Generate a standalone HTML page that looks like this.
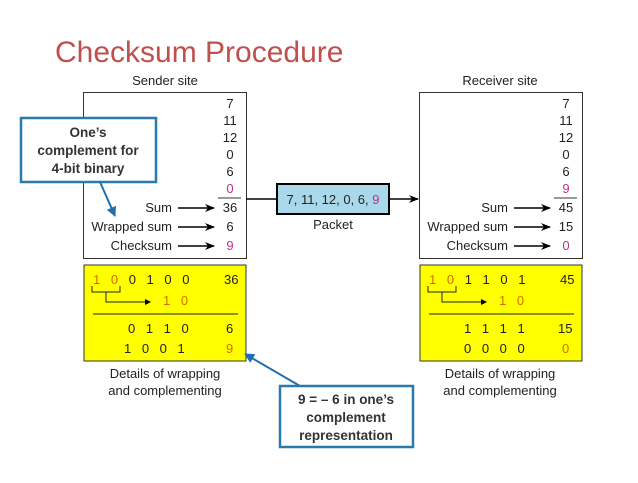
<!DOCTYPE html>
<html><head><meta charset="utf-8"><style>
body{margin:0;background:#fff;width:638px;height:478px;overflow:hidden}
text{font-family:"Liberation Sans",sans-serif}
.bn{letter-spacing:3.5px}
</style></head><body>
<svg width="638" height="478" xmlns="http://www.w3.org/2000/svg">
<defs><marker id="a" markerWidth="10" markerHeight="8" refX="9" refY="4" orient="auto" markerUnits="userSpaceOnUse"><path d="M0,0 L10,4 L0,8 L3,4z" fill="#000"/></marker>
<marker id="b" markerWidth="10" markerHeight="10" refX="9" refY="5" orient="auto" markerUnits="userSpaceOnUse"><path d="M0,0 L10,5 L0,10z" fill="#1f6fb0"/></marker>
<marker id="s" markerWidth="6" markerHeight="6" refX="5" refY="3" orient="auto" markerUnits="userSpaceOnUse"><path d="M0,0 L6,3 L0,6z" fill="#000"/></marker></defs>
<text x="55" y="62" font-size="30" fill="#c0504d">Checksum Procedure</text>
<g font-size="13" fill="#222">
<text x="165" y="85" text-anchor="middle">Sender site</text>
<text x="500" y="85" text-anchor="middle">Receiver site</text>
</g>
<rect x="83.5" y="92.5" width="163" height="166" fill="#fff" stroke="#333"/>
<rect x="419.5" y="92.5" width="163" height="166" fill="#fff" stroke="#333"/>
<g font-size="13" fill="#222" text-anchor="middle">
<text x="230" y="108">7</text><text x="230" y="125">11</text><text x="230" y="142">12</text><text x="230" y="159">0</text><text x="230" y="176">6</text><text x="230" y="193" fill="#c0308a">0</text>
<text x="230" y="212">36</text><text x="230" y="231">6</text><text x="230" y="250" fill="#c0308a">9</text>
<text x="566" y="108">7</text><text x="566" y="125">11</text><text x="566" y="142">12</text><text x="566" y="159">0</text><text x="566" y="176">6</text><text x="566" y="193" fill="#c0308a">9</text>
<text x="566" y="212">45</text><text x="566" y="231">15</text><text x="566" y="250" fill="#c0308a">0</text>
</g>
<line x1="218" y1="198" x2="241" y2="198" stroke="#333"/>
<line x1="554" y1="198" x2="577" y2="198" stroke="#333"/>
<g font-size="13" fill="#222" text-anchor="end">
<text x="172" y="212">Sum</text><text x="172" y="231">Wrapped sum</text><text x="172" y="250">Checksum</text>
<text x="508" y="212">Sum</text><text x="508" y="231">Wrapped sum</text><text x="508" y="250">Checksum</text>
</g>
<g stroke="#000" stroke-width="1.5" marker-end="url(#a)">
<line x1="178" y1="208" x2="214" y2="208"/><line x1="178" y1="227" x2="214" y2="227"/><line x1="178" y1="246" x2="214" y2="246"/>
<line x1="514" y1="208" x2="550" y2="208"/><line x1="514" y1="227" x2="550" y2="227"/><line x1="514" y1="246" x2="550" y2="246"/>
<line x1="389" y1="199" x2="418" y2="199"/>
</g>
<line x1="246" y1="199" x2="277" y2="199" stroke="#000" stroke-width="1.5"/>
<rect x="277" y="184" width="112" height="30" fill="#a8d8ea" stroke="#000" stroke-width="2"/>
<text x="333" y="204" font-size="13" text-anchor="middle" fill="#222">7, 11, 12, 0, 6, <tspan fill="#c0308a">9</tspan></text>
<text x="333" y="229" font-size="13" text-anchor="middle" fill="#222">Packet</text>
<rect x="84" y="265" width="162" height="96" fill="#ffff00" stroke="#333"/>
<rect x="420" y="265" width="162" height="96" fill="#ffff00" stroke="#333"/>
<g font-size="13" fill="#222">
<text class="bn" x="93" y="284"><tspan fill="#d86a00">1 0</tspan> 0 1 0 0</text><text x="224" y="284">36</text>
<text class="bn" x="163" y="305" fill="#d86a00">1 0</text>
<text class="bn" x="128" y="333">0 1 1 0</text><text x="226" y="333">6</text>
<text class="bn" x="124" y="353">1 0 0 1</text><text x="226" y="353" fill="#d86a00">9</text>
<text class="bn" x="429" y="284"><tspan fill="#d86a00">1 0</tspan> 1 1 0 1</text><text x="560" y="284">45</text>
<text class="bn" x="499" y="305" fill="#d86a00">1 0</text>
<text class="bn" x="464" y="333">1 1 1 1</text><text x="558" y="333">15</text>
<text class="bn" x="464" y="353">0 0 0 0</text><text x="562" y="353" fill="#d86a00">0</text>
</g>
<g stroke="#222" fill="none">
<path d="M92,286 V292 H120 V286"/><path d="M106,292 V302 H150" marker-end="url(#s)"/>
<path d="M428,286 V292 H456 V286"/><path d="M442,292 V302 H486" marker-end="url(#s)"/>
<line x1="93" y1="314" x2="238" y2="314"/><line x1="429" y1="314" x2="574" y2="314"/>
</g>
<g font-size="13" fill="#222" text-anchor="middle">
<text x="165" y="378">Details of wrapping</text><text x="165" y="395">and complementing</text>
<text x="500" y="378">Details of wrapping</text><text x="500" y="395">and complementing</text>
</g>
<line x1="100" y1="182" x2="115" y2="216" stroke="#1f6fb0" stroke-width="2" marker-end="url(#b)"/>
<line x1="300" y1="386" x2="245" y2="354" stroke="#1f6fb0" stroke-width="2" marker-end="url(#b)"/>
<rect x="21" y="118" width="135" height="64" fill="#fff" stroke="#2a7aab" stroke-width="2.5"/>
<g font-size="13.5" font-weight="bold" fill="#333" text-anchor="middle">
<text x="88" y="137">One’s</text><text x="88" y="155">complement for</text><text x="88" y="173">4-bit binary</text>
</g>
<rect x="280" y="386" width="133" height="61" fill="#fff" stroke="#2a7aab" stroke-width="2.5"/>
<g font-size="13.5" font-weight="bold" fill="#333" text-anchor="middle">
<text x="346" y="404">9 = – 6 in one’s</text><text x="346" y="422">complement</text><text x="346" y="440">representation</text>
</g>
</svg>
</body></html>
